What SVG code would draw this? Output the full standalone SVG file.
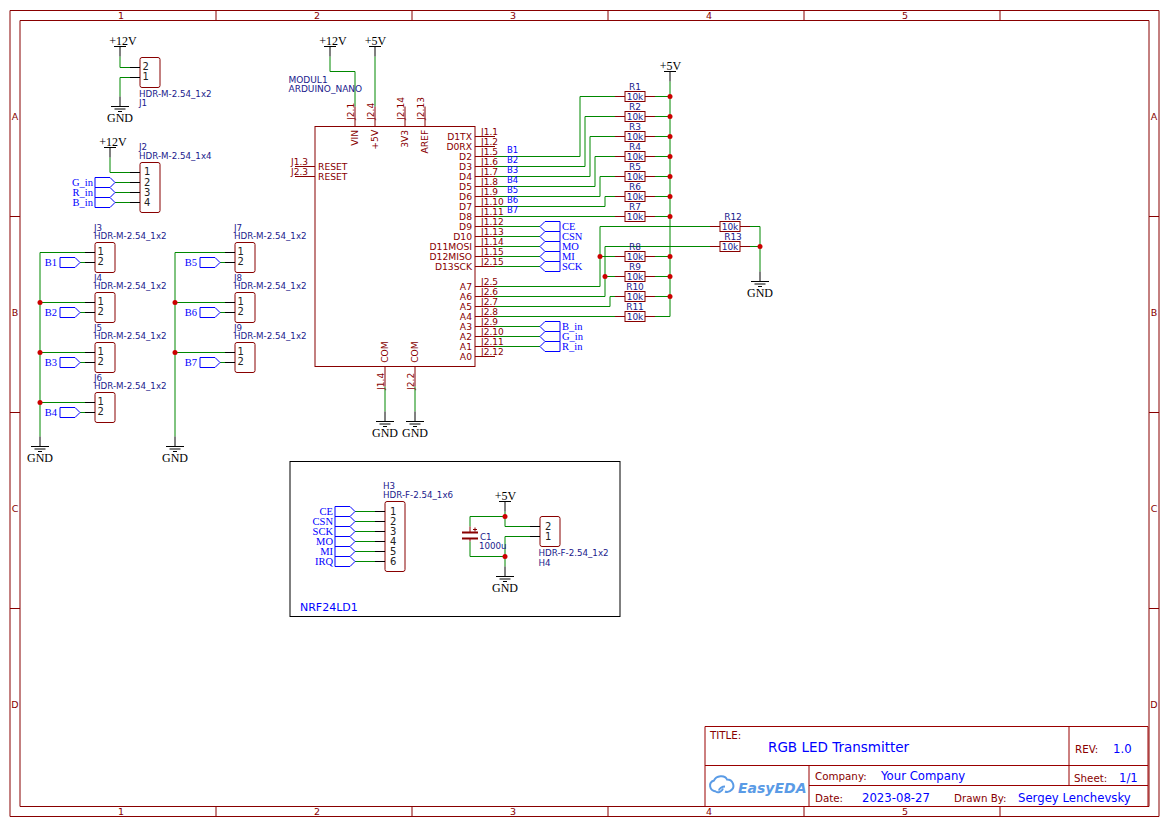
<svg xmlns="http://www.w3.org/2000/svg" width="1169" height="827" viewBox="0 0 1169 827">
<style>
text{font-family:"DejaVu Sans",sans-serif;translate:0 -0.7px}
#titleblock text,#frame text{translate:none}
.f{fill:none;stroke:#880000;stroke-width:1}
.w{fill:none;stroke:#008800;stroke-width:1}
.k{fill:none;stroke:#000;stroke-width:1}
.p{fill:none;stroke:#880000;stroke-width:1}
.b{fill:none;stroke:#880000;stroke-width:1}
.fl{fill:none;stroke:#0000ff;stroke-width:1}
.t{fill:#880000;font-size:9px}
.n{fill:#880000;font-size:9.200px}
.d{fill:#1a1a8c;font-size:8.700px}
.r{fill:#1a1a8c;font-size:9px;text-anchor:middle}
.g{fill:#222;font-size:10px}
.s{font-family:"Liberation Serif",serif;fill:#000;font-size:12px;text-anchor:middle}
.l{font-family:"Liberation Serif",serif;fill:#0000ff;font-size:10.500px}
.e{text-anchor:end}
.m{fill:#880000;font-size:10.300px}
.v{fill:#0000ff;font-size:11.700px}
.j{fill:#cc0000}
</style>
<defs>
<g id="gndsym" class="k"><path d="M-9 0H9M-5.500 2.500H5.500M-2 5H2M0 -10V0"/></g>
<g id="pwrsym" class="k"><path d="M-6 0H6M0 0V10"/></g>
<polygon id="fr" class="fl" points="0,-5 15,-5 20,0 15,5 0,5"/>
<polygon id="fl" class="fl" points="20,-5 5,-5 0,0 5,5 20,5"/>
<path id="res" d="M-20 0H-10M10 0H20" class="p"/>
</defs>
<g transform="translate(0 0.5)">
<g id="frame">
<path class="f" d="M10 10H1159V816H10ZM20 20H1149V806H20Z"/>
<path class="f" d="M216 10V20M412 10V20M608 10V20M804 10V20M1000 10V20M216 806V816M412 806V816M608 806V816M804 806V816M1000 806V816M10 216H20M10 412H20M10 608H20M1149 216H1159M1149 412H1159M1149 608H1159"/>
<g fill="#880000" font-size="9.500" text-anchor="middle">
<text x="121" y="18.500">1</text><text x="317" y="18.500">2</text><text x="513" y="18.500">3</text><text x="709" y="18.500">4</text><text x="905" y="18.500">5</text>
<text x="121" y="814.500">1</text><text x="317" y="814.500">2</text><text x="513" y="814.500">3</text><text x="709" y="814.500">4</text><text x="905" y="814.500">5</text>
<text x="15" y="119">A</text><text x="15" y="315">B</text><text x="15" y="511">C</text><text x="15" y="707">D</text>
<text x="1154" y="119">A</text><text x="1154" y="315">B</text><text x="1154" y="511">C</text><text x="1154" y="707">D</text>
</g>
</g>
<g id="wires">
<path class="w" d="M120 56V67H130M130 77H120V96"/>
<path class="w" d="M110 157V172H130M115 182H130M115 192H130M115 202H130"/>
<path class="w" d="M85 252H40V436M80 262H85M40 302H85M80 312H85M40 352H85M80 362H85M40 402H85M80 412H85"/>
<path class="w" d="M225 252H175V436M220 262H225M175 302H225M220 312H225M175 352H225M220 362H225"/>
<path class="w" d="M330 56V71H355V106M375 56V106M385 386V411M415 386V411"/>
<path class="w" d="M495 156H580V96H615M495 166H585V116H615M495 176H590V136H615M495 186H595V156H615M495 196H600V176H615M495 206H605V196H615M495 216H615"/>
<path class="w" d="M495 226H540M495 236H540M495 246H540M495 256H540M495 266H540M495 326H540M495 336H540M495 346H540"/>
<path class="w" d="M495 286H600V226H710M495 296H605V246H710M495 306H610V296H615M495 316H615M600 256H615M605 276H615"/>
<path class="w" d="M670 81V316H655M655 96H670M655 116H670M655 136H670M655 156H670M655 176H670M655 196H670M655 216H670M655 256H670M655 276H670M655 296H670"/>
<path class="w" d="M750 226H760V271M750 246H760"/>
<path class="w" d="M355 511H375M355 521H375M355 531H375M355 541H375M355 551H375M355 561H375"/>
<path class="w" d="M505 511V526H530M530 536H505V566M470 526V516H505M470 541V556H505"/>
<g class="j">
<circle cx="40" cy="302" r="2.500"/><circle cx="40" cy="352" r="2.500"/><circle cx="40" cy="402" r="2.500"/>
<circle cx="175" cy="302" r="2.500"/><circle cx="175" cy="352" r="2.500"/>
<circle cx="670" cy="96" r="2.500"/><circle cx="670" cy="116" r="2.500"/><circle cx="670" cy="136" r="2.500"/><circle cx="670" cy="156" r="2.500"/><circle cx="670" cy="176" r="2.500"/><circle cx="670" cy="196" r="2.500"/><circle cx="670" cy="216" r="2.500"/><circle cx="670" cy="256" r="2.500"/><circle cx="670" cy="276" r="2.500"/><circle cx="670" cy="296" r="2.500"/>
<circle cx="600" cy="256" r="2.500"/><circle cx="605" cy="276" r="2.500"/><circle cx="760" cy="246" r="2.500"/>
<circle cx="505" cy="516" r="2.500"/><circle cx="505" cy="556" r="2.500"/>
</g>
</g>
<g id="power">
<use href="#pwrsym" x="120" y="46"/><text class="s" x="123" y="45">+12V</text>
<use href="#gndsym" x="120" y="106"/><text class="s" x="120" y="122">GND</text>
<use href="#pwrsym" x="110" y="147"/><text class="s" x="113" y="146">+12V</text>
<use href="#gndsym" x="40" y="446"/><text class="s" x="40" y="462">GND</text>
<use href="#gndsym" x="175" y="446"/><text class="s" x="175" y="462">GND</text>
<use href="#pwrsym" x="330" y="46"/><text class="s" x="333" y="45">+12V</text>
<use href="#pwrsym" x="375" y="46"/><text class="s" x="375.500" y="45">+5V</text>
<use href="#gndsym" x="385" y="421"/><text class="s" x="385" y="437">GND</text>
<use href="#gndsym" x="415" y="421"/><text class="s" x="415" y="437">GND</text>
<use href="#pwrsym" x="670" y="71"/><text class="s" x="670.500" y="70">+5V</text>
<use href="#gndsym" x="760" y="281"/><text class="s" x="760" y="297">GND</text>
<use href="#pwrsym" x="505" y="501"/><text class="s" x="505.500" y="500">+5V</text>
<use href="#gndsym" x="505" y="576"/><text class="s" x="505" y="592">GND</text>
</g>
<g id="J1"><rect class="b" x="140" y="57" width="20" height="30" rx="2"/><path class="k" d="M130 67H140M130 77H140"/><text class="g" x="142.500" y="70.500">2</text><text class="g" x="142.500" y="80.500">1</text><text class="d" x="139" y="97">HDR-M-2.54_1x2</text><text class="d" x="139" y="106">J1</text></g>
<g id="J2"><rect class="b" x="140" y="162" width="20" height="50" rx="2"/><path class="k" d="M130 172H140M130 182H140M130 192H140M130 202H140"/><text class="g" x="144" y="175.500">1</text><text class="g" x="144" y="186">2</text><text class="g" x="144" y="196">3</text><text class="g" x="144" y="206">4</text><text class="d" x="139" y="150">J2</text><text class="d" x="139" y="159">HDR-M-2.54_1x4</text>
<use href="#fr" x="95" y="182"/><use href="#fr" x="95" y="192"/><use href="#fr" x="95" y="202"/><text class="l e" x="93" y="186">G_in</text><text class="l e" x="93" y="196">R_in</text><text class="l e" x="93" y="206">B_in</text></g>
<g id="J3"><rect class="b" x="95" y="242" width="20" height="30" rx="2"/><path class="k" d="M85 252H95M85 262H95"/><text class="g" x="97.500" y="255.500">1</text><text class="g" x="97.500" y="265.500">2</text><text class="d" x="94" y="231">J3</text><text class="d" x="94" y="239">HDR-M-2.54_1x2</text><use href="#fr" x="60" y="262"/><text class="l e" x="57" y="266">B1</text></g>
<g id="J4"><rect class="b" x="95" y="292" width="20" height="30" rx="2"/><path class="k" d="M85 302H95M85 312H95"/><text class="g" x="97.500" y="305.500">1</text><text class="g" x="97.500" y="315.500">2</text><text class="d" x="94" y="281">J4</text><text class="d" x="94" y="289">HDR-M-2.54_1x2</text><use href="#fr" x="60" y="312"/><text class="l e" x="57" y="316">B2</text></g>
<g id="J5"><rect class="b" x="95" y="342" width="20" height="30" rx="2"/><path class="k" d="M85 352H95M85 362H95"/><text class="g" x="97.500" y="355.500">1</text><text class="g" x="97.500" y="365.500">2</text><text class="d" x="94" y="331">J5</text><text class="d" x="94" y="339">HDR-M-2.54_1x2</text><use href="#fr" x="60" y="362"/><text class="l e" x="57" y="366">B3</text></g>
<g id="J6"><rect class="b" x="95" y="392" width="20" height="30" rx="2"/><path class="k" d="M85 402H95M85 412H95"/><text class="g" x="97.500" y="405.500">1</text><text class="g" x="97.500" y="415.500">2</text><text class="d" x="94" y="381">J6</text><text class="d" x="94" y="389">HDR-M-2.54_1x2</text><use href="#fr" x="60" y="412"/><text class="l e" x="57" y="416">B4</text></g>
<g id="J7"><rect class="b" x="235" y="242" width="20" height="30" rx="2"/><path class="k" d="M225 252H235M225 262H235"/><text class="g" x="237.500" y="255.500">1</text><text class="g" x="237.500" y="265.500">2</text><text class="d" x="234" y="231">J7</text><text class="d" x="234" y="239">HDR-M-2.54_1x2</text><use href="#fr" x="200" y="262"/><text class="l e" x="197" y="266">B5</text></g>
<g id="J8"><rect class="b" x="235" y="292" width="20" height="30" rx="2"/><path class="k" d="M225 302H235M225 312H235"/><text class="g" x="237.500" y="305.500">1</text><text class="g" x="237.500" y="315.500">2</text><text class="d" x="234" y="281">J8</text><text class="d" x="234" y="289">HDR-M-2.54_1x2</text><use href="#fr" x="200" y="312"/><text class="l e" x="197" y="316">B6</text></g>
<g id="J9"><rect class="b" x="235" y="342" width="20" height="30" rx="2"/><path class="k" d="M225 352H235M225 362H235"/><text class="g" x="237.500" y="355.500">1</text><text class="g" x="237.500" y="365.500">2</text><text class="d" x="234" y="331">J9</text><text class="d" x="234" y="339">HDR-M-2.54_1x2</text><use href="#fr" x="200" y="362"/><text class="l e" x="197" y="366">B7</text></g>
<g id="MODUL1">
<rect class="b" x="315" y="126" width="160" height="240"/>
<text class="d" style="font-size:9px" x="288.500" y="83">MODUL1</text><text class="d" style="font-size:9px" x="288.500" y="92">ARDUINO_NANO</text>
<path class="p" d="M355 106V126M375 106V126M405 106V126M425 106V126M385 366V386M415 366V386M295 166H315M295 176H315"/>
<path class="p" d="M475 136H495M475 146H495M475 156H495M475 166H495M475 176H495M475 186H495M475 196H495M475 206H495M475 216H495M475 226H495M475 236H495M475 246H495M475 256H495M475 266H495M475 286H495M475 296H495M475 306H495M475 316H495M475 326H495M475 336H495M475 346H495M475 356H495"/>
<g class="t">
<text x="353.500" y="120" transform="rotate(-90 353.500 120)">J2.1</text><text x="373.500" y="120" transform="rotate(-90 373.500 120)">J2.4</text><text x="403.500" y="120" transform="rotate(-90 403.500 120)">J2.14</text><text x="423.500" y="120" transform="rotate(-90 423.500 120)">J2.13</text>
<text x="383.500" y="390" transform="rotate(-90 383.500 390)">J1.4</text><text x="413.500" y="390" transform="rotate(-90 413.500 390)">J2.2</text>
<text x="291" y="165">J1.3</text><text x="291" y="175">J2.3</text>
<text x="481" y="135">J1.1</text><text x="481" y="145">J1.2</text><text x="481" y="155">J1.5</text><text x="481" y="165">J1.6</text><text x="481" y="175">J1.7</text><text x="481" y="185">J1.8</text><text x="481" y="195">J1.9</text><text x="481" y="205">J1.10</text><text x="481" y="215">J1.11</text><text x="481" y="225">J1.12</text><text x="481" y="235">J1.13</text><text x="481" y="245">J1.14</text><text x="481" y="255">J1.15</text><text x="481" y="265">J2.15</text>
<text x="481" y="285">J2.5</text><text x="481" y="295">J2.6</text><text x="481" y="305">J2.7</text><text x="481" y="315">J2.8</text><text x="481" y="325">J2.9</text><text x="481" y="335">J2.10</text><text x="481" y="345">J2.11</text><text x="481" y="355">J2.12</text>
</g>
<g class="n">
<text x="358" y="130" text-anchor="end" transform="rotate(-90 358 130)">VIN</text><text x="378" y="130" text-anchor="end" transform="rotate(-90 378 130)">+5V</text><text x="408" y="130" text-anchor="end" transform="rotate(-90 408 130)">3V3</text><text x="428" y="130" text-anchor="end" transform="rotate(-90 428 130)">AREF</text>
<text x="388" y="363" transform="rotate(-90 388 363)">COM</text><text x="418" y="363" transform="rotate(-90 418 363)">COM</text>
<text x="318" y="170">RESET</text><text x="318" y="180">RESET</text>
</g>
<g class="n" text-anchor="end">
<text x="472" y="140">D1TX</text><text x="472" y="150">D0RX</text><text x="472" y="160">D2</text><text x="472" y="170">D3</text><text x="472" y="180">D4</text><text x="472" y="190">D5</text><text x="472" y="200">D6</text><text x="472" y="210">D7</text><text x="472" y="220">D8</text><text x="472" y="230">D9</text><text x="472" y="240">D10</text><text x="472" y="250">D11MOSI</text><text x="472" y="260">D12MISO</text><text x="472" y="270">D13SCK</text>
<text x="472" y="290">A7</text><text x="472" y="300">A6</text><text x="472" y="310">A5</text><text x="472" y="320">A4</text><text x="472" y="330">A3</text><text x="472" y="340">A2</text><text x="472" y="350">A1</text><text x="472" y="360">A0</text>
</g>
</g>
<g id="netlabels">
<g class="l" style="font-size:8.500px"><text x="507" y="153">B1</text><text x="507" y="163">B2</text><text x="507" y="173">B3</text><text x="507" y="183">B4</text><text x="507" y="193">B5</text><text x="507" y="203">B6</text><text x="507" y="213">B7</text></g>
<use href="#fl" x="540" y="226"/><use href="#fl" x="540" y="236"/><use href="#fl" x="540" y="246"/><use href="#fl" x="540" y="256"/><use href="#fl" x="540" y="266"/>
<use href="#fl" x="540" y="326"/><use href="#fl" x="540" y="336"/><use href="#fl" x="540" y="346"/>
<text class="l" x="562" y="230">CE</text><text class="l" x="562" y="240">CSN</text><text class="l" x="562" y="250">MO</text><text class="l" x="562" y="260">MI</text><text class="l" x="562" y="270">SCK</text>
<text class="l" x="562" y="330">B_in</text><text class="l" x="562" y="340">G_in</text><text class="l" x="562" y="350">R_in</text>
</g>
<g id="R1"><rect class="b" x="625" y="91" width="20" height="10"/><use href="#res" x="635" y="96"/><text class="r" x="635" y="90">R1</text><text class="r" x="635" y="100">10k</text></g>
<g id="R2"><rect class="b" x="625" y="111" width="20" height="10"/><use href="#res" x="635" y="116"/><text class="r" x="635" y="110">R2</text><text class="r" x="635" y="120">10k</text></g>
<g id="R3"><rect class="b" x="625" y="131" width="20" height="10"/><use href="#res" x="635" y="136"/><text class="r" x="635" y="130">R3</text><text class="r" x="635" y="140">10k</text></g>
<g id="R4"><rect class="b" x="625" y="151" width="20" height="10"/><use href="#res" x="635" y="156"/><text class="r" x="635" y="150">R4</text><text class="r" x="635" y="160">10k</text></g>
<g id="R5"><rect class="b" x="625" y="171" width="20" height="10"/><use href="#res" x="635" y="176"/><text class="r" x="635" y="170">R5</text><text class="r" x="635" y="180">10k</text></g>
<g id="R6"><rect class="b" x="625" y="191" width="20" height="10"/><use href="#res" x="635" y="196"/><text class="r" x="635" y="190">R6</text><text class="r" x="635" y="200">10k</text></g>
<g id="R7"><rect class="b" x="625" y="211" width="20" height="10"/><use href="#res" x="635" y="216"/><text class="r" x="635" y="210">R7</text><text class="r" x="635" y="220">10k</text></g>
<g id="R8"><rect class="b" x="625" y="251" width="20" height="10"/><use href="#res" x="635" y="256"/><text class="r" x="635" y="250">R8</text><text class="r" x="635" y="260">10k</text></g>
<g id="R9"><rect class="b" x="625" y="271" width="20" height="10"/><use href="#res" x="635" y="276"/><text class="r" x="635" y="270">R9</text><text class="r" x="635" y="280">10k</text></g>
<g id="R10"><rect class="b" x="625" y="291" width="20" height="10"/><use href="#res" x="635" y="296"/><text class="r" x="635" y="290">R10</text><text class="r" x="635" y="300">10k</text></g>
<g id="R11"><rect class="b" x="625" y="311" width="20" height="10"/><use href="#res" x="635" y="316"/><text class="r" x="635" y="310">R11</text><text class="r" x="635" y="320">10k</text></g>
<g id="R12"><rect class="b" x="720" y="221" width="20" height="10"/><use href="#res" x="730" y="226"/><text class="r" x="733" y="220">R12</text><text class="r" x="730" y="230">10k</text></g>
<g id="R13"><rect class="b" x="720" y="241" width="20" height="10"/><use href="#res" x="730" y="246"/><text class="r" x="733" y="240">R13</text><text class="r" x="730" y="250">10k</text></g>
<g id="NRF24LD1"><rect x="290" y="461" width="330" height="155" fill="none" stroke="#000"/><text x="300" y="611" fill="#0000ff" font-size="11">NRF24LD1</text></g>
<g id="H3"><rect class="b" x="385" y="501" width="20" height="70" rx="2"/><path class="k" d="M375 511H385M375 521H385M375 531H385M375 541H385M375 551H385M375 561H385"/>
<text class="g" x="390" y="515">1</text><text class="g" x="390" y="525">2</text><text class="g" x="390" y="535">3</text><text class="g" x="390" y="545">4</text><text class="g" x="390" y="555">5</text><text class="g" x="390" y="565">6</text>
<text class="d" x="383" y="489">H3</text><text class="d" x="383" y="498">HDR-F-2.54_1x6</text>
<use href="#fr" x="335" y="511"/><use href="#fr" x="335" y="521"/><use href="#fr" x="335" y="531"/><use href="#fr" x="335" y="541"/><use href="#fr" x="335" y="551"/><use href="#fr" x="335" y="561"/>
<text class="l e" x="333" y="515">CE</text><text class="l e" x="333" y="525">CSN</text><text class="l e" x="333" y="535">SCK</text><text class="l e" x="333" y="545">MO</text><text class="l e" x="333" y="555">MI</text><text class="l e" x="333" y="565">IRQ</text></g>
<g id="C1"><path class="p" d="M470 526V532M470 538V541"/><path d="M462 532H478M462 538H478" stroke="#880000" stroke-width="2" fill="none"/><path d="M473 529H477M475 527V531" stroke="#880000" fill="none"/><text class="d" x="480" y="540">C1</text><text class="d" x="479" y="549">1000u</text></g>
<g id="H4"><rect class="b" x="540" y="516" width="20" height="30" rx="2"/><path class="k" d="M530 526H540M530 536H540"/><text class="g" x="545" y="530">2</text><text class="g" x="545" y="540">1</text><text class="d" x="538.500" y="556">HDR-F-2.54_1x2</text><text class="d" x="538.500" y="566">H4</text></g>
<g id="titleblock">
<path d="M705 726H1148V806H705ZM705 765H1148M809 785H1148M809 765V806M1069 726V785" fill="none" stroke="#990000"/>
<text class="m" x="710" y="738.500">TITLE:</text>
<text x="768" y="751.500" fill="#0000ff" font-size="13.500">RGB LED Transmitter</text>
<text class="m" x="1075" y="752.500">REV:</text><text class="v" x="1113" y="752.500">1.0</text>
<text class="m" x="1074" y="781.500">Sheet:</text><text class="v" x="1119" y="781.500">1/1</text>
<text class="m" x="815" y="779.500">Company:</text><text class="v" x="881" y="779.500">Your Company</text>
<text class="m" x="815" y="801.500">Date:</text><text class="v" x="862" y="801.500">2023-08-27</text>
<text class="m" x="954" y="801.500">Drawn By:</text><text class="v" x="1018" y="801.500">Sergey Lenchevsky</text>
<path d="M716 791C709 790 708 782 714 780C716 775 725 774 727 779C733 779 735 786 732 789C730 791 727 792 725 791M716 791C718 793 722 791 723 788M725 786C722 786 719 788 719 790" fill="none" stroke="#5a9be6" stroke-width="2"/>
<text x="738" y="792" fill="#5a9be6" font-size="14" font-weight="bold" font-style="italic" font-family="'Open Sans',sans-serif">EasyEDA</text>
</g>
</g>
</svg>
